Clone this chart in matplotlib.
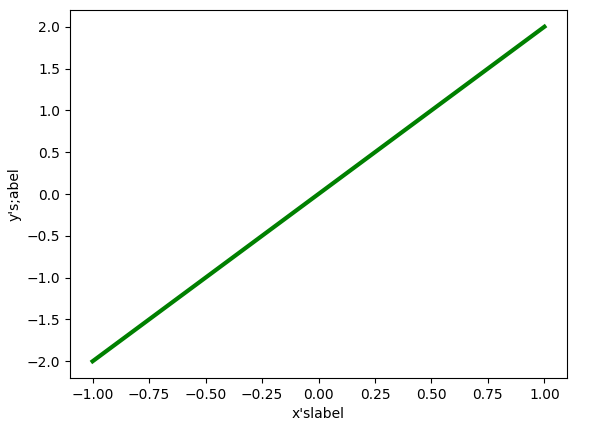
import numpy as np
import matplotlib
matplotlib.use("Agg")
import matplotlib.pyplot as plt

# end points of the line
x = np.array([-1.0, 1.0])
y = np.array([-2.0, 2.0])

fig = plt.figure(figsize=(6.12, 4.26), dpi=100)
ax = fig.add_axes([70 / 612, 48 / 426, 497 / 612, 368 / 426])
ax.plot(x, y, color="green", linewidth=3)
ax.set_xlabel("x'slabel")
ax.set_ylabel("y's;abel")
fig.savefig("out.png", dpi=100)
